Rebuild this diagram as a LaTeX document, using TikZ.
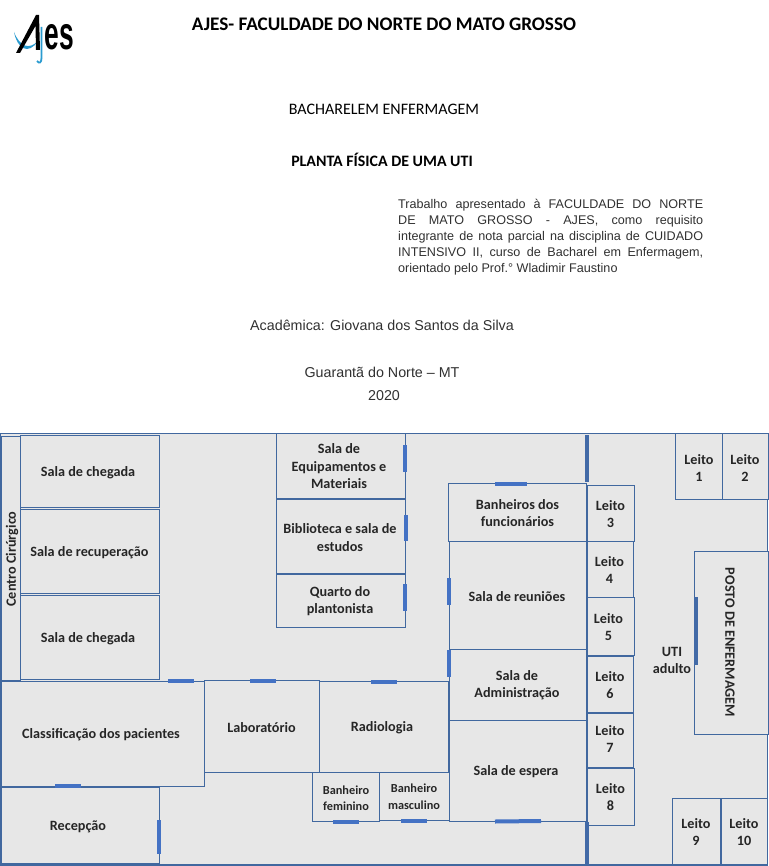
\documentclass[tikz,border=0pt]{standalone}
\usepackage{fontspec}
\setmainfont{Carlito}
\newfontfamily\arialfont{Liberation Sans}
\definecolor{wallblue}{HTML}{41689F}
\definecolor{doorblue}{HTML}{4472C4}
\definecolor{floorgray}{HTML}{E7E7E7}
\definecolor{logoblue}{HTML}{2A9BD0}
\definecolor{arialgray}{HTML}{303030}
\newcommand{\room}[6][]{%
  \node[room,#1,minimum width=#4-#2,minimum height=#5-#3] (#6) at ({(#2+#4)/2},{(#3+#5)/2}) {};}
\begin{document}
\begin{tikzpicture}
[x=1pt,y=-1pt,>=stealth,
  room/.style={draw=wallblue,line width=1pt,inner sep=0pt,outer sep=0pt},
  label/.style={font=\bfseries\fontsize{14.2}{17.5}\selectfont,align=center,text=black!85,inner sep=0pt,yshift=-1pt},
  small/.style={label,font=\bfseries\fontsize{12.3}{16.5}\selectfont},
  door/.style={doorblue,line width=4pt},
  head/.style={font=\fontsize{19.2}{20}\selectfont\bfseries,inner sep=0pt},
  arial/.style={font=\arialfont\fontsize{14.3}{16}\selectfont,text=arialgray,inner sep=0pt}]
\useasboundingbox (0,0) rectangle (768,866);
%% heading
\node[head] (title) at (384,24.5) {AJES- FACULDADE DO NORTE DO MATO GROSSO};
\node[font=\fontsize{16}{18}\selectfont,inner sep=0pt] (course) at (384,109.5) {BACHARELEM ENFERMAGEM};
\node[font=\fontsize{15.9}{18}\selectfont\bfseries,inner sep=0pt] (plan) at (382,159.5) {PLANTA FÍSICA DE UMA UTI};
\node[anchor=north west,inner sep=0pt,text width=305pt,align=justify,text=arialgray,
  font=\arialfont\fontsize{12.6}{15.8}\selectfont] (work) at (398,199.5)
  {Trabalho apresentado à FACULDADE DO NORTE\linebreak DE MATO GROSSO - AJES, como requisito\linebreak integrante de nota parcial na disciplina de CUIDADO\linebreak INTENSIVO II, curso de Bacharel em Enfermagem,\linebreak orientado pelo Prof.° Wladimir Faustino};
\node[arial] (student) at (382,325) {Acadêmica: Giovana dos Santos da Silva};
\node[arial] (city) at (382,372) {Guarantã do Norte – MT};
\node[arial] (year) at (384,396) {2020};
%% logo
\fill[logoblue] (14,32) .. controls (17,48) and (28,56) .. (38,41) .. controls (29,50) and (20,47) .. cycle;
\fill[black] (16,53) -- (36,15) -- (39,15) -- (40,50) -- (36,50) -- (35.5,26) -- (20,53) -- cycle;
\draw[logoblue,line width=1.8pt] (41.5,27) -- (41.5,58) .. controls (41.5,63) and (39,64) .. (37,61);
\node[font=\arialfont\bfseries\fontsize{31}{31}\selectfont,inner sep=0pt] (logotext) at (59.5,37) {\scalebox{.85}[1.5]{es}};
%% floor
\fill[floorgray] (0,434) rectangle (768,866);
\draw[wallblue,line width=1pt] (0.5,866) -- (0.5,433.5) -- (768,433.5);
\draw[wallblue,line width=2pt] (0,865) -- (768,865);
\draw[wallblue,line width=1pt] (722,499.5) -- (767.5,499.5) -- (767.5,551);
\draw[wallblue,line width=1pt] (767.5,734) -- (767.5,798);
%% rooms on the left
\room{1}{436}{20.5}{680}{surgery}
\room{20.5}{435}{159}{507.5}{arrival1}
\room{20.5}{509}{159}{593}{recovery}
\room{20.5}{595}{159}{679}{arrival2}
\room{1}{681}{204.5}{786}{triage}
\room{204.5}{680.5}{319}{772}{lab}
\room{319.5}{681}{448}{772}{radio}
\room{312.5}{772}{379.5}{821}{bathf}
\room{379.5}{772}{449}{820}{bathm}
\room{1}{787}{159}{863}{reception}
%% middle rooms
\room{276.5}{433.5}{405}{498.5}{storage}
\room{276.5}{499}{405}{573.5}{library}
\room{276.5}{574}{405}{627}{oncall}
\room{448}{483.5}{586.5}{541}{bathstaff}
\room{449}{541.5}{586}{649}{meeting}
\room{449}{649}{586}{720}{admin}
\room{449}{720.5}{586}{821}{waiting}
%% beds
\room{587}{485}{634}{541}{bed3}
\room{587}{541}{633}{597}{bed4}
\room{587}{597}{634}{655}{bed5}
\room{587}{656}{633}{712.5}{bed6}
\room{587}{713}{633}{767}{bed7}
\room{587}{768}{634}{825}{bed8}
\room{675.5}{433.5}{722}{499.5}{bed1}
\room{722}{433.5}{768}{499.5}{bed2}
\room{672.5}{798.5}{720.5}{865}{bed9}
\room{721.5}{798.5}{767.5}{865}{bed10}
\room{694}{551}{768}{734}{station}
%% labels
\node[label,rotate=90] (lsurgery) at (12,558) {Centro Cirúrgico};
\node[label] (larrival1) at (88,472) {Sala de chegada};
\node[label] (lrecovery) at (89.5,552) {Sala de recuperação};
\node[label] (larrival2) at (88,638) {Sala de chegada};
\node[label] (ltriage) at (101,734) {Classificação dos pacientes};
\node[label] (llab) at (261.5,727) {Laboratório};
\node[label] (lradio) at (382,727) {Radiologia};
\node[small] (lbathf) at (346,797) {Banheiro\\feminino};
\node[small] (lbathm) at (414,795.5) {Banheiro\\masculino};
\node[label] (lreception) at (78,826) {Recepção};
\node[label] (lstorage) at (339,465.5) {Sala de\\Equipamentos e\\Materiais};
\node[label] (llibrary) at (340,536.5) {Biblioteca e sala de\\estudos};
\node[label] (loncall) at (340,600) {Quarto do\\plantonista};
\node[label] (lbathstaff) at (517.5,512) {Banheiros dos\\funcionários};
\node[label] (lmeeting) at (517,596) {Sala de reuniões};
\node[label] (ladmin) at (517,684) {Sala de\\Administração};
\node[label] (lwaiting) at (516,771) {Sala de espera};
\foreach \bedname/\bedx/\bedy/\bednum in {bed1/699/467/1,bed2/745/467/2,bed3/610.5/513/3,bed4/609.5/569/4,
  bed5/608.5/626/5,bed6/610/684/6,bed7/610/738/7,bed8/610.5/796/8,bed9/696/831/9,bed10/744/831/10}
  \node[label] (l\bedname) at (\bedx,\bedy) {Leito\\\bednum};
\node[label] (lward) at (672,659.5) {UTI\\adulto};
\node[label,rotate=-90] (lstation) at (730,641.5) {POSTO DE ENFERMAGEM};
%% doors
\draw[door] (405,445) -- (405,472);
\draw[door] (406,515) -- (406,541);
\draw[door] (405,584) -- (405,611);
\draw[door] (449,578) -- (449,605);
\draw[door] (449,650) -- (449,677);
\draw[door] (168,681) -- (194,681);
\draw[door] (250,681) -- (276,681);
\draw[door] (371,682) -- (397,682);
\draw[door] (55,786) -- (81,786);
\draw[door] (159,820) -- (159,854);
\draw[door] (333,821.5) -- (359,821.5);
\draw[door] (401,820.5) -- (427,820.5);
\draw[door] (495,483.5) -- (527,483.5);
\draw[door] (495,821.5) -- (541,821);
\draw[door,wallblue!80!doorblue] (586.5,435) -- (586.5,482);
\draw[door,wallblue!80!doorblue] (587,822) -- (587,865);
\draw[door,wallblue!80!doorblue] (696,597) -- (696,665);
\end{tikzpicture}
\end{document}
